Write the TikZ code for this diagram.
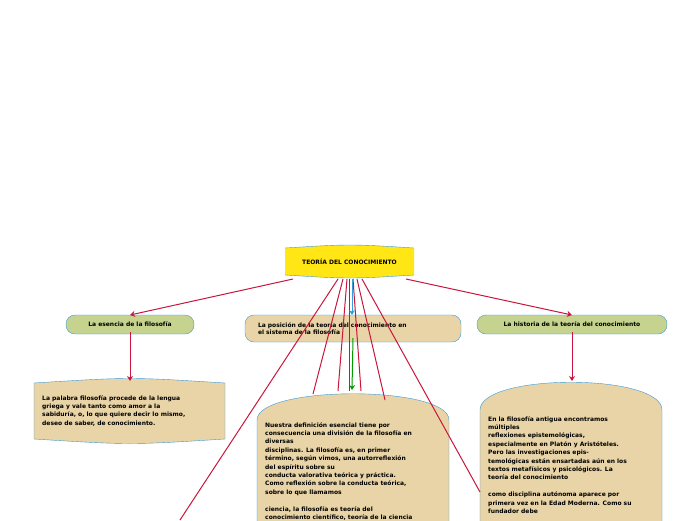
\documentclass[tikz,border=0pt]{standalone}
\usepackage{fontspec}
\setmainfont{DejaVu Sans}
\usetikzlibrary{positioning}
\usetikzlibrary{arrows.meta}
\definecolor{tan}{HTML}{E8D4A6}
\definecolor{leaf}{HTML}{C5D38F}
\definecolor{sun}{HTML}{FFE614}
\definecolor{edge}{HTML}{3A9BD9}
\definecolor{wire}{HTML}{C8163C}

\begin{document}
\begin{tikzpicture}[x=1pt, y=-1pt,
        topic/.style = {
            draw=edge,
            rounded corners = 9pt,
            font = \bfseries\fontsize{6}{7.5}\selectfont,
            inner sep = 0pt,
            outer sep = 0pt
        },
        body/.style = {
            font = \bfseries\fontsize{6}{8.4}\selectfont,
            align = left,
            anchor = north west,
            inner sep = 0pt
        },
        link/.style = {draw=wire, line width = 1pt},
        tip/.style = {link, -{Stealth[length=5pt,width=6pt]}}
    ]
    \useasboundingbox (0,0) rectangle (696,520);
    \begin{scope}
    \clip (0,0) rectangle (696,520);
    % shapes
    \fill[sun] (285,248) .. controls (350,244) .. (414,248) -- (414,275) .. controls (350,279) .. (285,275) -- cycle;
    \draw[edge] (285,248) .. controls (350,244) .. (414,248) (414,275) .. controls (350,279) .. (285,275);
    \draw[edge, fill=tan] (34,383) .. controls (130,377) .. (225,383) -- (225,439) .. controls (130,445) .. (34,439) -- cycle;
    \draw[edge, fill=tan] (257,540) -- (257,420) .. controls (257,385) and (449,385) .. (449,420) -- (449,540);
    \draw[edge, fill=tan] (480,540) -- (480,410) .. controls (480,373) and (662,373) .. (662,410) -- (662,540);

    % nodes
    \node[inner sep=0pt, font=\bfseries\fontsize{6}{7}\selectfont] (root) at (349.5,261.5) {TEORÍA DEL CONOCIMIENTO};
    \coordinate (rootS) at (350,279);
    \node[topic, fill=leaf, minimum width=128pt, minimum height=19pt] (essence) at (130,324.5) {La esencia de la filosofía};
    \node[topic, fill=tan, minimum width=216pt, minimum height=27pt, align=left, text width=190pt] (place) at (353,328.5) {La posición de la teoría del conocimiento en\\el sistema de la filosofía};
    \node[topic, fill=leaf, minimum width=190pt, minimum height=19pt] (history) at (572,324.5) {La historia de la teoría del conocimiento};
    \node[body] (word) at (42,395) {La palabra filosofía procede de la lengua\\griega y vale tanto como amor a la\\sabiduría, o, lo que quiere decir lo mismo,\\deseo de saber, de conocimiento.};
    \coordinate (wordN) at (130,381);
    \node[body] (division) at (265,422) {Nuestra definición esencial tiene por\\consecuencia una división de la filosofía en\\diversas\\disciplinas. La filosofía es, en primer\\término, según vimos, una autorreflexión\\del espíritu sobre su\\conducta valorativa teórica y práctica.\\Como reflexión sobre la conducta teórica,\\sobre lo que llamamos\\[8.4pt]ciencia, la filosofía es teoría del\\conocimiento científico, teoría de la ciencia};
    \coordinate (divisionN) at (352,390);
    \node[body] (ancient) at (488,416) {En la filosofía antigua encontramos\\múltiples\\reflexiones epistemológicas,\\especialmente en Platón y Aristóteles.\\Pero las investigaciones epis-\\temológicas están ensartadas aún en los\\textos metafísicos y psicológicos. La\\teoría del conocimiento\\[8.4pt]como disciplina autónoma aparece por\\primera vez en la Edad Moderna. Como su\\fundador debe};
    \coordinate (ancientN) at (572,381);

    % free ends of the lines
    \coordinate (l1) at (180,520);
    \coordinate (l2) at (313,394);
    \coordinate (l3) at (338,391);
    \coordinate (l4) at (349,391);
    \coordinate (l5) at (361,391);
    \coordinate (l6) at (385,400);
    \coordinate (l7) at (480,492);

    % connectors
    \draw[tip] ([xshift=-57pt]rootS) -- (essence.north);
    \draw[tip] ([xshift=56pt]rootS) -- (history.north);
    \draw[tip] ([yshift=2pt]essence.south) -- (wordN);
    \draw[tip] ([yshift=2pt]history.south) -- (ancientN);
    \draw[link] ([xshift=-12pt]rootS) -- (l1);
    \draw[link] ([xshift=-7pt]rootS) -- (l2);
    \draw[link] ([xshift=-3pt]rootS) -- (l3);
    \draw[link] ([xshift=-1pt]rootS) -- (l4);
    \draw[link] ([xshift=3pt]rootS) -- (l5);
    \draw[link] ([xshift=7pt]rootS) -- (l6);
    \draw[link] ([xshift=12pt]rootS) -- (l7);
    \draw[edge, line width=1pt, -{Stealth[length=5pt,width=6pt]}] ([xshift=2pt]rootS) -- ([xshift=-1pt]place.north);
    \draw[green!60!black, line width=1pt, -{Stealth[length=5pt,width=6pt]}] ([yshift=4pt]place.south) -- (divisionN);
    \end{scope}
\end{tikzpicture}
\end{document}
